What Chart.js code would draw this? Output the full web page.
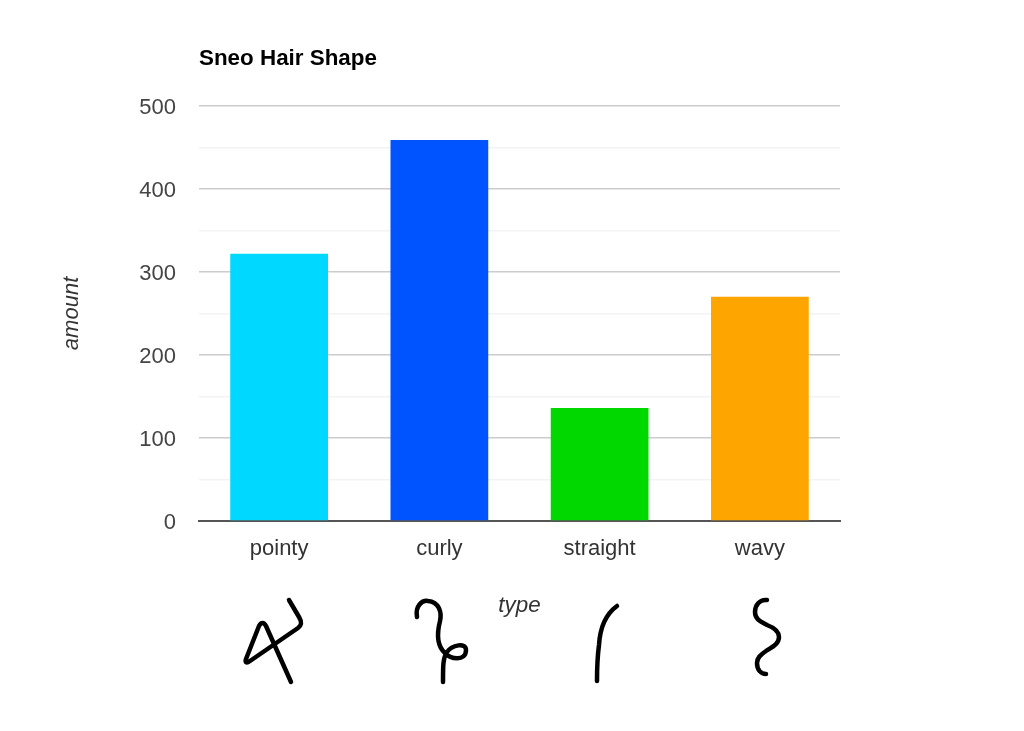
<!DOCTYPE html>
<html>
<head>
<meta charset="utf-8">
<style>html,body{margin:0;padding:0;background:#fff}canvas{display:block}</style>
<script src="https://cdn.jsdelivr.net/npm/chart.js@4"></script>
</head>
<body>
<canvas id="c" width="1024" height="731"></canvas>
<script>
const categories = ["pointy", "curly", "straight", "wavy"];
const amounts = [322, 459, 136, 270];
const barColors = ["#00D8FF", "#0054FF", "#00D800", "#FFA500"];
const chartTitle = "Sneo Hair Shape";
const xTitle = "type";
const yTitle = "amount";
const glyphPaths = [
  "M289,600 L299,617 C302,622 302,625 298,628 L250,661 C246,664 245,662 246,659 L259,626 C261,622 264,622 266,626 L291,682",
  "M417,617 C415,606 422,600 428,601 C439,602 442,612 440,621 C437,633 437,646 445,653 C450,659 466,662 466,650 C466,642 452,645 447,652 C443,658 443,665 443,682",
  "M617,606 C606,614 600,628 599,645 C597,660 597,670 597,681",
  "M767,600 C760,599 755,605 755,612 C755,620 762,622 767,625 C775,628 779,632 779,637 C779,644 772,647 766,651 C760,655 757,658 757,663 C757,670 761,674 766,674"
];
const fontFamily = "'Liberation Sans', Arial, sans-serif";

const glyphPlugin = {
  id: "glyphs",
  afterDraw(chart) {
    const ctx = chart.ctx;
    ctx.save();
    ctx.strokeStyle = "#000";
    ctx.lineWidth = 4.5;
    ctx.lineCap = "round";
    ctx.lineJoin = "round";
    glyphPaths.forEach(p => ctx.stroke(new Path2D(p)));
    ctx.restore();
  }
};

new Chart(document.getElementById("c"), {
  type: "bar",
  data: {
    labels: categories,
    datasets: [{ data: amounts, backgroundColor: barColors, borderWidth: 0,
      categoryPercentage: 1, barPercentage: 0.61 }]
  },
  plugins: [glyphPlugin],
  options: {
    responsive: false,
    animation: false,
    devicePixelRatio: 1,
    layout: { padding: { left: 0, right: 184, top: 0, bottom: 0 } },
    plugins: {
      legend: { display: false },
      tooltip: { enabled: false },
      title: {
        display: true, text: chartTitle, align: "start", fullSize: false,
        color: "#000", font: { family: fontFamily, size: 22.4, weight: "bold" },
        padding: { top: 45, bottom: 34 }
      }
    },
    scales: {
      x: {
        afterFit: s => { s.height = 210; },
        grid: { display: false },
        border: { display: true, color: "#555", width: 2 },
        ticks: { color: "#333", font: { family: fontFamily, size: 22 }, padding: 7, maxRotation: 0 },
        title: { display: true, text: xTitle, color: "#333",
          font: { family: fontFamily, size: 22.4, style: "italic" }, padding: { top: 0, bottom: 112 } }
      },
      y: {
        min: 0, max: 500,
        afterFit: s => { s.width = 199; },
        afterBuildTicks: s => { s.ticks = [0,50,100,150,200,250,300,350,400,450,500].map(v => ({ value: v })); },
        grid: {
          drawTicks: false,
          color: c => c.tick.value === 0 ? "#555" : (c.tick.value % 100 === 0 ? "#ccc" : "#f3f3f3"),
          lineWidth: 1.5
        },
        border: { display: false },
        ticks: {
          autoSkip: false, color: "#444", padding: 23, labelOffset: 2,
          font: { family: fontFamily, size: 22 },
          callback: v => v % 100 === 0 ? String(v) : ""
        },
        title: { display: true, text: yTitle, color: "#333",
          font: { family: fontFamily, size: 22, style: "italic" }, padding: { top: 59, bottom: 0 } }
      }
    }
  }
});
</script>
</body>
</html>
